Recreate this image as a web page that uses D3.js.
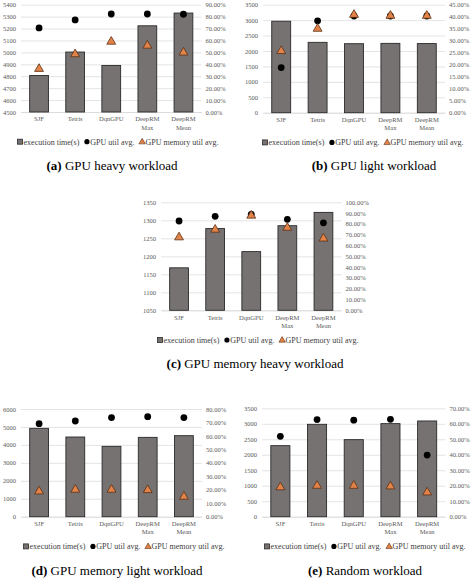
<!DOCTYPE html>
<html>
<head>
<meta charset="utf-8">
<script src="https://cdn.jsdelivr.net/npm/d3@7"></script>
<style>
  body { margin: 0; background: #fff; }
  svg { display: block; font-family: "Liberation Serif", "Times New Roman", serif; }
</style>
</head>
<body>
<svg width="474" height="579"></svg>
<script>
let categories = ["SJF", "Tetris", "DqnGPU", "DeepRM Max", "DeepRM Mean"]

// (a) GPU heavy
let execHeavy = [4806, 5003, 4890, 5223, 5330]
let utilHeavy = [0.705, 0.772, 0.822, 0.822, 0.82]
let memHeavy = [0.362, 0.485, 0.59, 0.557, 0.499]

// (b) GPU light
let execLight = [2965, 2280, 2236, 2247, 2240]
let utilLight = [0.188, 0.383, 0.403, 0.403, 0.403]
let memLight = [0.257, 0.35, 0.408, 0.404, 0.404]

// (c) GPU memory heavy
let execMemHeavy = [1168, 1277, 1213, 1285, 1322]
let utilMemHeavy = [0.827, 0.87, 0.889, 0.842, 0.81]
let memMemHeavy = [0.676, 0.747, 0.877, 0.765, 0.665]

// (d) GPU memory light
let execMemLight = [4923, 4440, 3920, 4421, 4514]
let utilMemLight = [0.691, 0.711, 0.736, 0.743, 0.736]
let memMemLight = [0.188, 0.201, 0.201, 0.198, 0.149]

// (e) Random
let execRandom = [2294, 2983, 2488, 3005, 3091]
let utilRandom = [0.519, 0.627, 0.623, 0.629, 0.398]
let memRandom = [0.19, 0.20, 0.20, 0.196, 0.157]

let legendLabels = ["execution time(s)", "GPU util avg.", "GPU memory util avg."]

let svg = d3.select("svg")

let barFill = "#777272"
let barStroke = "#2a2a2a"
let triFill = "#e2844a"
let triStroke = "#5a2e12"
let gridColor = "#d9d9d9"
let tickColor = "#595959"

let panels = [
  { tag: "(a)", title: "GPU heavy workload", exec: execHeavy, util: utilHeavy, mem: memHeavy,
    left: [4500, 5400, 100], right: [0, 0.9, 0.1],
    x0: 21, x1: 201.5, y0: 4.7, y1: 112, legendX: 118, captionX: 112, captionY: 170 },
  { tag: "(b)", title: "GPU light workload", exec: execLight, util: utilLight, mem: memLight,
    left: [0, 3500, 500], right: [0, 0.45, 0.05],
    x0: 263, x1: 445, y0: 4.7, y1: 112.7, legendX: 363, captionX: 374, captionY: 170 },
  { tag: "(c)", title: "GPU memory heavy workload", exec: execMemHeavy, util: utilMemHeavy, mem: memMemHeavy,
    left: [1050, 1350, 50], right: [0, 1.0, 0.1],
    x0: 161, x1: 341.5, y0: 202.3, y1: 310.3, legendX: 258, captionX: 255, captionY: 368 },
  { tag: "(d)", title: "GPU memory light workload", exec: execMemLight, util: utilMemLight, mem: memMemLight,
    left: [0, 6000, 1000], right: [0, 0.8, 0.1],
    x0: 21, x1: 202, y0: 409, y1: 516.7, legendX: 124, captionX: 117, captionY: 575 },
  { tag: "(e)", title: "Random workload", exec: execRandom, util: utilRandom, mem: memRandom,
    left: [0, 3500, 500], right: [0, 0.7, 0.1],
    x0: 262, x1: 445.5, y0: 408.3, y1: 516.7, legendX: 365, captionX: 365, captionY: 575 }
]

let drawPanel = (p) => {
  let g = svg.append("g")

  let xScale = d3.scaleBand()
                 .domain(categories)
                 .range([p.x0, p.x1])
                 .paddingInner(0.48)
                 .paddingOuter(0.24)

  let yLeft = d3.scaleLinear()
                .domain([p.left[0], p.left[1]])
                .range([p.y1, p.y0])

  let yRight = d3.scaleLinear()
                 .domain([p.right[0], p.right[1]])
                 .range([p.y1, p.y0])

  let leftTicks = d3.range(p.left[0], p.left[1] + p.left[2] / 2, p.left[2])
  let rightTicks = d3.range(0, Math.round(p.right[1] / p.right[2]) + 1).map(i => i * p.right[2])

  // gridlines
  g.append("g")
   .attr("transform", "translate(" + p.x0 + ",0)")
   .call(d3.axisLeft(yLeft).tickValues(leftTicks).tickSize(-(p.x1 - p.x0)).tickFormat(""))
   .call(a => a.select(".domain").remove())
   .selectAll("line").attr("stroke", gridColor).attr("stroke-width", 0.7)

  // left axis labels
  g.append("g")
   .attr("transform", "translate(" + p.x0 + ",0)")
   .call(d3.axisLeft(yLeft).tickValues(leftTicks).tickSize(0).tickPadding(5).tickFormat(d3.format("d")))
   .call(a => a.select(".domain").remove())
   .selectAll("text")
   .attr("font-family", "Liberation Serif")
   .attr("font-size", 6.5)
   .attr("fill", tickColor)

  // right axis labels
  g.append("g")
   .attr("transform", "translate(" + p.x1 + ",0)")
   .call(d3.axisRight(yRight).tickValues(rightTicks).tickSize(0).tickPadding(4).tickFormat(d3.format(".2%")))
   .call(a => a.select(".domain").remove())
   .selectAll("text")
   .attr("font-family", "Liberation Serif")
   .attr("font-size", 6.5)
   .attr("fill", tickColor)

  // category axis
  let xAxis = g.append("g")
               .attr("transform", "translate(0," + p.y1 + ")")
               .call(d3.axisBottom(xScale).tickSize(0).tickPadding(4))
  xAxis.select(".domain").attr("stroke", gridColor).attr("stroke-width", 0.7)
  xAxis.selectAll("text")
       .attr("font-family", "Liberation Serif")
       .attr("font-size", 6.6)
       .attr("fill", tickColor)
       .each(function (d) {
         let t = d3.select(this)
         let words = d.split(" ")
         t.text(null)
         words.forEach((w, i) => {
           t.append("tspan").attr("x", 0).attr("dy", i === 0 ? "0.8em" : "1.25em").text(w)
         })
       })

  // bars
  g.selectAll(".bar")
   .data(p.exec)
   .enter()
   .append("rect")
   .attr("class", "bar")
   .attr("x", (d, i) => xScale(categories[i]))
   .attr("y", d => yLeft(d))
   .attr("width", xScale.bandwidth())
   .attr("height", d => p.y1 - yLeft(d))
   .attr("fill", barFill)
   .attr("stroke", barStroke)
   .attr("stroke-width", 0.9)

  let cx = i => xScale(categories[i]) + xScale.bandwidth() / 2

  // GPU util (circles)
  g.selectAll(".util")
   .data(p.util)
   .enter()
   .append("circle")
   .attr("class", "util")
   .attr("cx", (d, i) => cx(i))
   .attr("cy", d => yRight(d))
   .attr("r", 3.4)
   .attr("fill", "#000")

  // GPU memory util (triangles)
  let tri = d3.symbol().type(d3.symbolTriangle).size(34)
  g.selectAll(".mem")
   .data(p.mem)
   .enter()
   .append("path")
   .attr("class", "mem")
   .attr("d", tri)
   .attr("transform", (d, i) => "translate(" + cx(i) + "," + yRight(d) + ")")
   .attr("fill", triFill)
   .attr("stroke", triStroke)
   .attr("stroke-width", 0.8)

  // legend
  let legendY = p.y1 + 30
  let lg = g.append("g")
  let pos = 0
  legendLabels.forEach((label, i) => {
    if (i === 0) {
      lg.append("rect").attr("x", pos).attr("y", -2.8).attr("width", 5).attr("height", 5)
        .attr("fill", barFill).attr("stroke", barStroke).attr("stroke-width", 0.8)
    } else if (i === 1) {
      lg.append("circle").attr("cx", pos + 2.6).attr("cy", -0.3).attr("r", 2.6).attr("fill", "#000")
    } else {
      lg.append("path").attr("d", d3.symbol().type(d3.symbolTriangle).size(18))
        .attr("transform", "translate(" + (pos + 2.6) + ",0)")
        .attr("fill", triFill).attr("stroke", triStroke).attr("stroke-width", 0.6)
    }
    pos += 6
    let txt = lg.append("text")
                .attr("x", pos)
                .attr("y", 2.6)
                .attr("font-size", 8)
                .attr("fill", "#404040")
                .text(label)
    pos += txt.node().getComputedTextLength() + 5
  })
  lg.attr("transform", "translate(" + (p.legendX - (pos - 5) / 2) + "," + legendY + ")")

  // caption
  let cap = g.append("text")
             .attr("x", p.captionX)
             .attr("y", p.captionY)
             .attr("text-anchor", "middle")
             .attr("font-size", 13)
             .attr("fill", "#000")
  cap.append("tspan").attr("font-weight", "bold").text(p.tag)
  cap.append("tspan").text(" " + p.title)
}

panels.forEach(drawPanel)
</script>
</body>
</html>
